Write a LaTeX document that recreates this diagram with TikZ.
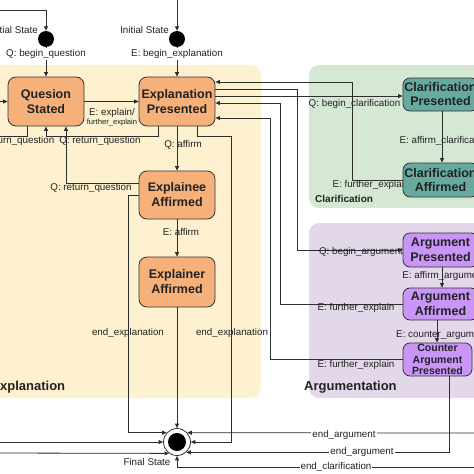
\documentclass[tikz,border=0pt]{standalone}
\usepackage{fontspec}
\setmainfont{Liberation Sans}
\usetikzlibrary{arrows.meta,calc}
\definecolor{ybg}{HTML}{FDF1CF}
\definecolor{gbg}{HTML}{D5E8D4}
\definecolor{pbg}{HTML}{E3D7EA}
\definecolor{orangef}{HTML}{F6B07A}
\definecolor{tealf}{HTML}{67AB9F}
\definecolor{purplef}{HTML}{C996F7}
\definecolor{linec}{HTML}{2E2E2E}
\definecolor{nodeline}{HTML}{333333}
\definecolor{txt}{HTML}{222222}
\begin{document}
\begin{tikzpicture}[x=1pt,y=-1pt,
  edge/.style={draw=linec,line width=0.8pt},
  arr/.style={edge,-{Triangle[length=4.5pt,width=4pt]}},
  elab/.style={font=\fontsize{9.8}{11}\selectfont,text=txt,inner sep=0.5pt},
  wlab/.style={elab,fill=white,inner sep=1pt},
  slab/.style={font=\fontsize{7.6}{9}\selectfont,text=txt,inner sep=0.5pt},
  reglab/.style={font=\fontsize{13}{15}\selectfont\bfseries,text=txt,inner sep=0pt,anchor=west},
  ostate/.style={draw=nodeline,fill=orangef,rounded corners=8pt,minimum width=76pt,minimum height=49pt,align=center,font=\fontsize{12.5}{15}\selectfont\bfseries,text=txt,line width=0.8pt,inner sep=1pt},
  tstate/.style={draw=nodeline,fill=tealf,rounded corners=7pt,minimum width=75pt,minimum height=33pt,align=center,font=\fontsize{12.5}{14}\selectfont\bfseries,text=txt,line width=0.8pt,inner sep=1pt},
  pstate/.style={draw=nodeline,fill=purplef,rounded corners=7pt,minimum width=75pt,minimum height=33pt,align=center,font=\fontsize{12.5}{15}\selectfont\bfseries,text=txt,line width=0.8pt,inner sep=1pt},
  initst/.style={circle,fill=black,minimum size=16pt,inner sep=0pt},
]
\useasboundingbox (0,0) rectangle (474,474);
\clip (0,0) rectangle (474,474);
\fill[white] (0,0) rectangle (474,474);

% regions
\fill[ybg,rounded corners=10pt] (-20,65) rectangle (261,398);
\fill[gbg,rounded corners=10pt] (309,65) rectangle (490,208);
\fill[pbg,rounded corners=10pt] (309,223) rectangle (490,398);
\node[reglab] (rexp) at (-8.7,387) {Explanation};
\node[reglab] (rarg) at (304,387) {Argumentation};
\node[reglab,font=\fontsize{10}{12}\selectfont\bfseries] (rcla) at (315,199) {Clarification};

% labels placed under the nodes
\node[elab] (lfe1) at (371,185) {E: further\_explain};

% states
\node[initst] (i1) at (46,39) {};
\node[initst] (i2) at (177,39) {};
\node[elab] (li1) at (13.5,30) {Initial State};
\node[elab] (li2) at (144.5,30) {Initial State};

\node[ostate] (qs) at (46,101.5) {Quesion\\Stated};
\node[ostate] (ep) at (177,101.5) {Explanation\\Presented};
\node[ostate,minimum height=48pt] (ea) at (177,195) {Explainee\\Affirmed};
\node[ostate,minimum height=50pt] (era) at (177,282) {Explainer\\Affirmed};

\node[tstate] (cp) at (440.5,94.5) {Clarification\\Presented};
\node[tstate,minimum height=34pt] (cla) at (440.5,180) {Clarification\\Affirmed};
\node[pstate,minimum height=34pt] (ap) at (440.5,250) {Argument\\Presented};
\node[pstate,minimum height=32pt] (aa) at (440.5,304) {Argument\\Affirmed};
\node[pstate,minimum width=69pt,font=\fontsize{10.5}{11.7}\selectfont\bfseries] (cap) at (437.5,359.5) {Counter\\Argument\\Presented};

\node[circle,draw=nodeline,fill=white,minimum size=27pt,inner sep=0pt,line width=0.8pt] (fin) at (177,442) {};
\node[circle,fill=black,minimum size=18pt,inner sep=0pt] (finc) at (fin) {};
\node[elab] (lfin) at (147,462) {Final State};

% initial arrows
\coordinate (s1) at (-5,10);
\coordinate (s2) at (177,-5);
\draw[arr] (s1) -| (i1.north);
\draw[arr] (s2) -- (i2.north);
\draw[arr] (i1.south) -- (qs.north);
\draw[arr] (i2.south) -- (ep.north);
\node[wlab] (lbq) at (46,54) {Q: begin\_question};
\node[wlab] (lbe) at (177,54) {E: begin\_explanation};

% explanation block
\draw[arr] (qs.east) -- (ep.west);
\node[elab] (lex) at (112,113) {E: explain/};
\node[slab] (lfx) at (112,123) {further\_explain};

\draw[arr] (ep.south -| 158,0) |- (46,136) -- (qs.south);
\node[elab] (lrq1) at (100,141) {Q: return\_question};

\draw[arr] (ea.west |- 0,183) -| (qs.south -| 66,0);
\node[elab] (lrq2) at (91,188) {Q: return\_question};

\coordinate (lo1) at (-5,136);
\draw[edge] (qs.south -| 27,0) |- (lo1);
\node[elab,anchor=east] (lrq0) at (55,141) {Q: return\_question};
\coordinate (lo2) at (-5,101.5);
\draw[arr] (lo2) -- (qs.west);

\draw[arr] (ep.south) -- (ea.north);
\node[elab] (laf1) at (183,145) {Q: affirm};
\draw[arr] (ea.south) -- (era.north);
\node[elab] (laf2) at (181,232) {E: affirm};
\draw[arr] (era.south) -- (fin.north);

\draw[arr] (ea.west) -| (128,0 |- fin.138) -- (fin.138);
\node[elab] (lee1) at (128,333) {end\_explanation};
\draw[arr] (ep.south -| 197,0) |- (231,136) |- (fin.east);
\node[elab] (lee2) at (232,333) {end\_explanation};

% links to the right-hand blocks
\draw[arr] (cla.west) -| (352,82) -- (ep.east |- 0,82);
\draw[arr] (ep.east |- 0,89) -| (297,0 |- ap.west) -- (ap.west);
\draw[arr] (ep.east |- 0,96) -- (cp.west |- 0,96);
\draw[arr] (aa.west) -| (280,103) -- (ep.east |- 0,103);
\draw[arr] (cap.west) -| (270,118) -- (ep.east |- 0,118);
\node[elab] (lbc) at (354.5,104) {Q: begin\_clarification};
\node[elab] (lba) at (361,252) {Q: begin\_argument};
\node[elab] (lfe2) at (356,308) {E: further\_explain};
\node[elab] (lfe3) at (356,365) {E: further\_explain};

\draw[arr] (cp.south -| 442,0) -- (cla.north -| 442,0);
\node[elab] (lac) at (445,141) {E: affirm\_clarification};
\draw[arr] (ap.south -| 442,0) -- (aa.north -| 442,0);
\node[elab] (laa) at (444,276) {E: affirm\_argument};
\draw[arr] (aa.south -| 437,0) -- (cap.north -| 437,0);
\node[elab] (lca) at (442,335) {E: counter\_argument};

% endings
\coordinate (r1) at (480,433);
\draw[arr] (r1) -- (fin.42);
\node[wlab] (lea1) at (344,435) {end\_argument};
\draw[arr] (cap.south -| 449,0) |- (fin.312);
\node[wlab] (lea2) at (362,452) {end\_argument};
\coordinate (r2) at (480,467);
\draw[arr] (r2) -| (fin.south);
\node[wlab] (lec) at (336,467) {end\_clarification};
\coordinate (l4) at (-5,442);
\draw[arr] (l4) -- (fin.west);
\coordinate (l5) at (-5,453);
\draw[arr] (l5) -- (fin.235);
\end{tikzpicture}
\end{document}
